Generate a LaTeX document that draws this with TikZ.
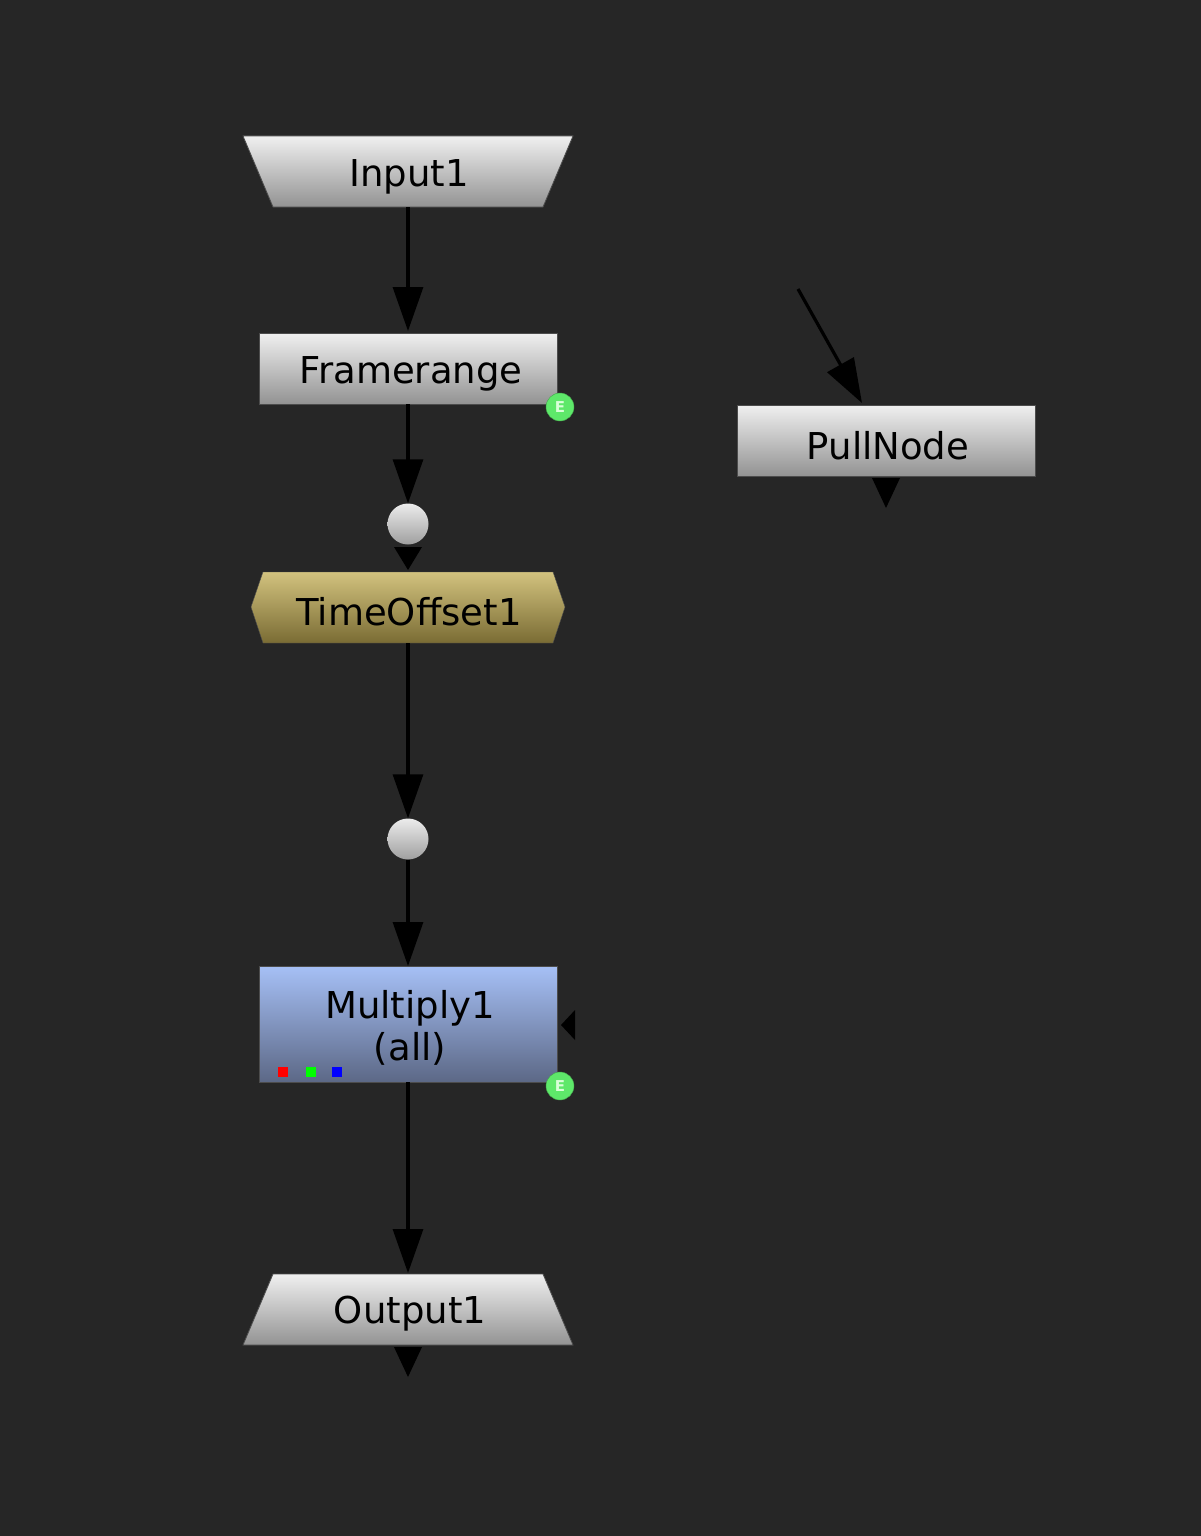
\documentclass[tikz,border=0pt]{standalone}
\usepackage{fontspec}
\setmainfont{DejaVu Sans}
\usetikzlibrary{arrows.meta}
\definecolor{bg}{HTML}{262626}
\definecolor{eg}{HTML}{5EE86A}
\definecolor{olt}{HTML}{D2C27E}
\definecolor{olb}{HTML}{7A6C34}
\definecolor{mbt}{HTML}{A6C0F6}
\definecolor{mbb}{HTML}{5C6886}
\tikzset{
 conn/.style={line width=3.2pt,black,-{Triangle[length=44pt,width=30pt]}},
 greybox/.style={draw=black!70,line width=0.8pt,top color=gray!12,bottom color=gray!85},
 lbl/.style={font=\fontsize{37}{42}\selectfont,text=black,inner sep=0pt},
 dotnode/.style={circle,minimum size=41pt,inner sep=0pt,top color=gray!15,bottom color=gray!75},
 ebadge/.style={circle,fill=eg,draw=eg!70!black,minimum size=28pt,inner sep=0pt,font=\fontsize{15}{15}\selectfont\bfseries,text=green!15!white},
 tip/.style={fill=black},
}
\begin{document}
\begin{tikzpicture}[x=1pt,y=-1pt]
\fill[bg] (0,0) rectangle (1201,1536);
\useasboundingbox (0,0) rectangle (1201,1536);
% Input1
\shade[greybox] (243,136)--(573,136)--(543,207)--(273,207)--cycle;
\node[lbl] (in) at (409,177) {Input1};
\coordinate (inb) at (408,207);
% Framerange
\shade[greybox] (259,333) rectangle (557,404);
\node[lbl] (fr) at (411,374) {Framerange};
\coordinate (frt) at (408,331);
\coordinate (frb) at (408,404);
\node[ebadge] (e1) at (560,407) {E};
% dot1
\node[dotnode] (d1) at (408,524) {};
\fill[tip] (394,547)--(422,547)--(408,570)--cycle;
% TimeOffset
\shade[top color=olt,bottom color=olb,draw=black!70] (251,607)--(263,572)--(553,572)--(565,607)--(553,643)--(263,643)--cycle;
\node[lbl] (to) at (409,612) {TimeOffset1};
\coordinate (tob) at (408,643);
% dot2
\node[dotnode] (d2) at (408,839) {};
% Multiply
\shade[top color=mbt,bottom color=mbb,draw=black!70] (259,966) rectangle (557,1082);
\node[lbl,align=center] (mu) at (410,1028) {Multiply1\\(all)};
\fill[red] (278,1067) rectangle (288,1077);
\fill[green] (306,1067) rectangle (316,1077);
\fill[blue] (332,1067) rectangle (342,1077);
\fill[tip] (575,1010)--(575,1040)--(561,1025)--cycle;
\node[ebadge] (e2) at (560,1086) {E};
\coordinate (mut) at (408,966);
\coordinate (mub) at (408,1082);
% Output
\shade[greybox] (273,1274)--(543,1274)--(573,1345)--(243,1345)--cycle;
\node[lbl] (out) at (410,1314) {Output1};
\coordinate (outt) at (408,1273);
\fill[tip] (394,1347)--(422,1347)--(408,1377)--cycle;
% PullNode
\shade[greybox] (737,405) rectangle (1035,476);
\node[lbl] (pn) at (888,446) {PullNode};
\coordinate (pnin) at (862,403);
\coordinate (pfree) at (798,289);
\fill[tip] (872,478)--(900,478)--(886,508)--cycle;
% connectors
\draw[conn] (inb) -- (frt);
\draw[conn] (frb) -- (d1.north);
\draw[conn] (tob) -- (d2.north);
\draw[conn] (d2.south) -- (mut);
\draw[conn] (mub) -- (outt);
\draw[conn] (pfree) -- (pnin);
\end{tikzpicture}
\end{document}
